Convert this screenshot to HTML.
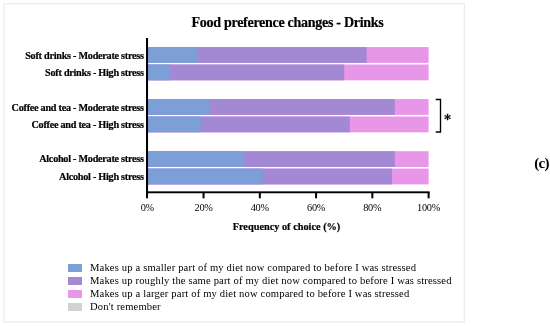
<!DOCTYPE html>
<html><head><meta charset="utf-8">
<style>
html,body{margin:0;padding:0;background:#fff;}
body{width:550px;height:326px;position:relative;overflow:hidden;font-family:"Liberation Serif","DejaVu Serif",serif;color:#000;}
.abs{position:absolute;}
svg{left:0;top:0;}
.title{-webkit-text-stroke:0.2px #000;left:147px;width:281px;top:15.3px;text-align:center;font-weight:bold;font-size:14px;letter-spacing:-0.28px;line-height:16px;white-space:nowrap;}
.yl{-webkit-text-stroke:0.2px #000;right:406.3px;text-align:right;font-weight:bold;font-size:10.2px;letter-spacing:-0.26px;line-height:12px;white-space:nowrap;}
.tl{top:201.8px;width:40px;text-align:center;font-size:10.3px;line-height:12px;letter-spacing:-0.2px;}
.xt{-webkit-text-stroke:0.2px #000;left:146px;width:281px;top:221px;text-align:center;font-weight:bold;font-size:10.3px;line-height:12px;white-space:nowrap;}
.lg{left:90px;letter-spacing:0.15px;font-size:10.6px;line-height:12px;white-space:nowrap;}
.c{left:534.3px;top:156.3px;font-weight:bold;font-size:15px;letter-spacing:-0.7px;line-height:14px;}
.star{left:444.2px;top:111.8px;font-family:"DejaVu Serif",serif;font-weight:bold;font-size:12.6px;line-height:16px;-webkit-text-stroke:0.3px #000;}
</style></head><body>
<svg class="abs" width="550" height="326" viewBox="0 0 550 326">
<rect x="147.30" y="47.1" width="281.30" height="15.8" fill="#e896e8"/>
<rect x="147.30" y="47.1" width="219.41" height="15.8" fill="#a388d3"/>
<rect x="147.30" y="47.1" width="50.63" height="15.8" fill="#7b9fd6"/>
<rect x="147.30" y="64.5" width="281.30" height="15.8" fill="#e896e8"/>
<rect x="147.30" y="64.5" width="196.91" height="15.8" fill="#a388d3"/>
<rect x="147.30" y="64.5" width="22.50" height="15.8" fill="#7b9fd6"/>
<rect x="147.30" y="99.1" width="281.30" height="15.8" fill="#e896e8"/>
<rect x="147.30" y="99.1" width="247.54" height="15.8" fill="#a388d3"/>
<rect x="147.30" y="99.1" width="61.89" height="15.8" fill="#7b9fd6"/>
<rect x="147.30" y="116.5" width="281.30" height="15.8" fill="#e896e8"/>
<rect x="147.30" y="116.5" width="202.54" height="15.8" fill="#a388d3"/>
<rect x="147.30" y="116.5" width="53.45" height="15.8" fill="#7b9fd6"/>
<rect x="147.30" y="151.2" width="281.30" height="15.8" fill="#e896e8"/>
<rect x="147.30" y="151.2" width="247.54" height="15.8" fill="#a388d3"/>
<rect x="147.30" y="151.2" width="95.64" height="15.8" fill="#7b9fd6"/>
<rect x="147.30" y="168.6" width="281.30" height="15.8" fill="#e896e8"/>
<rect x="147.30" y="168.6" width="244.73" height="15.8" fill="#a388d3"/>
<rect x="147.30" y="168.6" width="115.33" height="15.8" fill="#7b9fd6"/>
<rect x="146" y="38" width="2.05" height="160.3" fill="#000"/>
<rect x="146" y="191.35" width="283.60" height="1.9" fill="#000"/>
<rect x="202.56" y="192" width="2" height="6.3" fill="#000"/>
<rect x="258.82" y="192" width="2" height="6.3" fill="#000"/>
<rect x="315.08" y="192" width="2" height="6.3" fill="#000"/>
<rect x="371.34" y="192" width="2" height="6.3" fill="#000"/>
<rect x="427.60" y="192" width="2" height="6.3" fill="#000"/>
<path d="M435.7 99.5 H440.5 V132.0 H435.7" fill="none" stroke="#000" stroke-width="1.35"/>
<rect x="68" y="264.0" width="14" height="8" fill="#7b9fd6"/>
<rect x="68" y="277.0" width="14" height="8" fill="#a388d3"/>
<rect x="68" y="290.0" width="14" height="8" fill="#e896e8"/>
<rect x="68" y="303.0" width="14" height="8" fill="#d2d2d2"/>
<rect x="4.1" y="3.6" width="460.2" height="318.3" fill="none" stroke="#ececec" stroke-width="1.25"/>
</svg>
<div class="abs title">Food preference changes - Drinks</div>
<div class="abs yl" style="top:50px">Soft drinks - Moderate stress</div>
<div class="abs yl" style="top:67px">Soft drinks - High stress</div>
<div class="abs yl" style="top:102px">Coffee and tea - Moderate stress</div>
<div class="abs yl" style="top:119px">Coffee and tea - High stress</div>
<div class="abs yl" style="top:153px">Alcohol - Moderate stress</div>
<div class="abs yl" style="top:171px">Alcohol - High stress</div>
<div class="abs tl" style="left:127.3px">0%</div>
<div class="abs tl" style="left:183.6px">20%</div>
<div class="abs tl" style="left:239.8px">40%</div>
<div class="abs tl" style="left:296.1px">60%</div>
<div class="abs tl" style="left:352.3px">80%</div>
<div class="abs tl" style="left:408.6px">100%</div>
<div class="abs xt">Frequency of choice (%)</div>
<div class="abs star">*</div>
<div class="abs c">(c)</div>
<div class="abs lg" style="top:262px">Makes up a smaller part of my diet now compared to before I was stressed</div>
<div class="abs lg" style="top:275px">Makes up roughly the same part of my diet now compared to before I was stressed</div>
<div class="abs lg" style="top:288px">Makes up a larger part of my diet now compared to before I was stressed</div>
<div class="abs lg" style="top:301px">Don't remember</div>
</body></html>
